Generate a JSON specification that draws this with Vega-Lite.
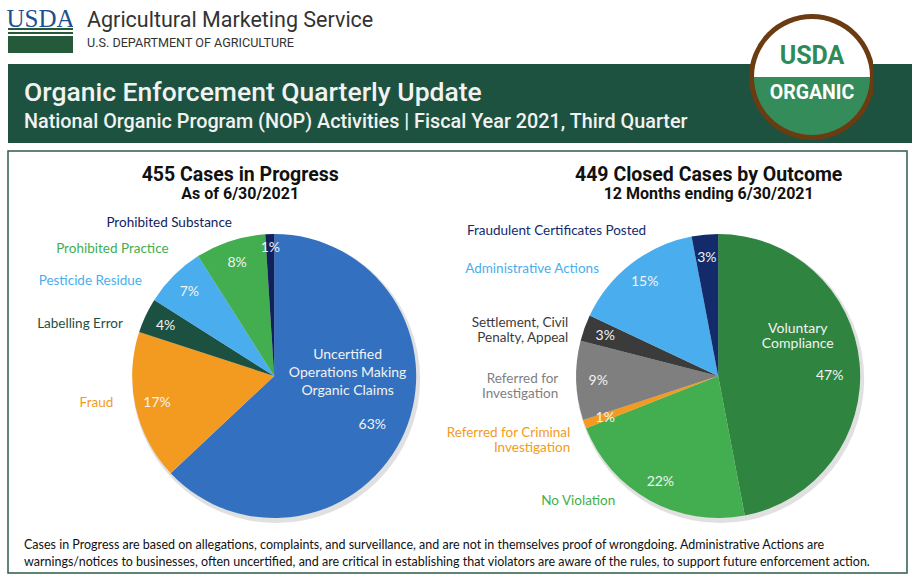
{
  "$schema": "https://vega.github.io/schema/vega-lite/v6.json",
  "padding": {"left": 6, "top": 0, "right": 0, "bottom": 0},
  "background": "#ffffff",
  "config": {"view": {"stroke": null}, "font": "Lato"},
  "datasets": {
    "pies": [
      {"panel": "In Progress", "i": 1, "category": "Uncertified Operations Making Organic Claims", "label": "Uncertified\nOperations Making\nOrganic Claims", "pct": 0.63},
      {"panel": "In Progress", "i": 2, "category": "Fraud", "label": "Fraud", "pct": 0.17},
      {"panel": "In Progress", "i": 3, "category": "Labelling Error", "label": "Labelling Error", "pct": 0.04},
      {"panel": "In Progress", "i": 4, "category": "Pesticide Residue", "label": "Pesticide Residue", "pct": 0.07},
      {"panel": "In Progress", "i": 5, "category": "Prohibited Practice", "label": "Prohibited Practice", "pct": 0.08},
      {"panel": "In Progress", "i": 6, "category": "Prohibited Substance", "label": "Prohibited Substance", "pct": 0.01},
      {"panel": "Closed", "i": 1, "category": "Voluntary Compliance", "label": "Voluntary\nCompliance", "pct": 0.47},
      {"panel": "Closed", "i": 2, "category": "No Violation", "label": "No Violation", "pct": 0.22},
      {"panel": "Closed", "i": 3, "category": "Referred for Criminal Investigation", "label": "Referred for Criminal\nInvestigation", "pct": 0.01},
      {"panel": "Closed", "i": 4, "category": "Referred for Investigation", "label": "Referred for\nInvestigation", "pct": 0.09},
      {"panel": "Closed", "i": 5, "category": "Settlement, Civil Penalty, Appeal", "label": "Settlement, Civil\nPenalty, Appeal", "pct": 0.03},
      {"panel": "Closed", "i": 6, "category": "Administrative Actions", "label": "Administrative Actions", "pct": 0.15},
      {"panel": "Closed", "i": 7, "category": "Fraudulent Certificates Posted", "label": "Fraudulent Certificates Posted", "pct": 0.03}
    ],
    "titles": [
      {"panel": "In Progress", "title": "455 Cases in Progress", "sub": "As of 6/30/2021"},
      {"panel": "Closed", "title": "449 Closed Cases by Outcome", "sub": "12 Months ending 6/30/2021"}
    ]
  },
  "spacing": 7,
  "vconcat": [
    {
      "title": {"text": "Agricultural Marketing Service", "subtitle": "U.S. DEPARTMENT OF AGRICULTURE", "orient": "top", "anchor": "start", "frame": "group", "offset": -50, "dx": 79, "font": "Roboto", "fontSize": 21.5, "fontWeight": "normal", "color": "#333333", "subtitleFont": "Roboto", "subtitleFontSize": 12.6, "subtitleColor": "#333333", "subtitlePadding": 5.8},
      "spacing": 0,
      "bounds": "flush",
      "hconcat": [
        {
          "width": 65, "height": 143,
          "view": {"fill": {"gradient": "linear", "x1": 0, "y1": 0, "x2": 0, "y2": 1, "stops": [
            {"offset": 0, "color": "#ffffff"}, {"offset": 0.198, "color": "#ffffff"},
            {"offset": 0.198, "color": "#24593a"}, {"offset": 0.213, "color": "#24593a"},
            {"offset": 0.213, "color": "#ffffff"}, {"offset": 0.224, "color": "#ffffff"},
            {"offset": 0.224, "color": "#24593a"}, {"offset": 0.241, "color": "#24593a"},
            {"offset": 0.241, "color": "#ffffff"}, {"offset": 0.252, "color": "#ffffff"},
            {"offset": 0.252, "color": "#24593a"}, {"offset": 0.368, "color": "#24593a"},
            {"offset": 0.368, "color": "#ffffff"}, {"offset": 0.4476, "color": "#ffffff"},
            {"offset": 0.4476, "color": "#1e5240"}, {"offset": 1, "color": "#1e5240"}]}},
          "data": {"values": [{}]},
          "mark": {"type": "text", "text": "USDA", "font": "Liberation Serif", "fontSize": 25, "fill": "#1d4f91", "align": "center", "baseline": "alphabetic", "dy": -44.8}
        },
        {
          "width": 678, "height": 143,
          "view": {"fill": {"gradient": "linear", "x1": 0, "y1": 0, "x2": 0, "y2": 1, "stops": [
            {"offset": 0, "color": "#ffffff"}, {"offset": 0.4476, "color": "#ffffff"},
            {"offset": 0.4476, "color": "#1e5240"}, {"offset": 1, "color": "#1e5240"}]}},
          "title": {"text": "Organic Enforcement Quarterly Update", "subtitle": "National Organic Program (NOP) Activities | Fiscal Year 2021, Third Quarter", "orient": "bottom", "anchor": "start", "frame": "group", "offset": -63, "dx": -49, "font": "Roboto", "fontSize": 26.5, "fontWeight": 500, "color": "#f2f2f2", "subtitleFont": "Roboto", "subtitleFontSize": 19.8, "subtitleFontWeight": 500, "subtitleColor": "#f2f2f2", "subtitlePadding": 5.5},
          "data": {"values": [{}]},
          "mark": {"type": "text", "text": ""}
        },
        {
          "width": 122, "height": 143,
          "view": {"fill": {"gradient": "linear", "x1": 0, "y1": 0, "x2": 0, "y2": 1, "stops": [
            {"offset": 0, "color": "#ffffff"}, {"offset": 0.4476, "color": "#ffffff"},
            {"offset": 0.4476, "color": "#1e5240"}, {"offset": 1, "color": "#1e5240"}]}},
          "data": {"values": [{}]},
          "layer": [
            {"mark": {"type": "arc", "theta": 0, "theta2": 6.2832, "outerRadius": 63, "fill": "#6b3b12", "yOffset": 5.5}, "encoding": {}},
            {"mark": {"type": "arc", "theta": -1.5708, "theta2": 1.5708, "outerRadius": 58, "fill": "#ffffff", "yOffset": 5.5}, "encoding": {}},
            {"mark": {"type": "arc", "theta": 1.5708, "theta2": 4.7124, "outerRadius": 58, "fill": "#348c5a", "yOffset": 5.5}, "encoding": {}},
            {"mark": {"type": "text", "text": "USDA", "font": "Roboto", "fontWeight": "bold", "fontSize": 25, "fill": "#2e8b57", "align": "center", "baseline": "middle", "dy": -15.5}},
            {"mark": {"type": "text", "text": "ORGANIC", "font": "Roboto", "fontWeight": "bold", "fontSize": 19.5, "fill": "#ffffff", "align": "center", "baseline": "middle", "dy": 21.8}}
          ]
        },
        {
          "width": 41, "height": 143,
          "view": {"fill": {"gradient": "linear", "x1": 0, "y1": 0, "x2": 0, "y2": 1, "stops": [
            {"offset": 0, "color": "#ffffff"}, {"offset": 0.4476, "color": "#ffffff"},
            {"offset": 0.4476, "color": "#1e5240"}, {"offset": 1, "color": "#1e5240"}]}},
          "data": {"values": [{}]},
          "mark": {"type": "text", "text": ""}
        }
      ]
    },
    {
      "width": 899, "height": 422,
      "view": {"stroke": "#2d5e48", "strokeWidth": 1.5},
      "title": {"text": ["Cases in Progress are based on allegations, complaints, and surveillance, and are not in themselves proof of wrongdoing.  Administrative Actions are", "warnings/notices to businesses, often uncertified, and are critical in establishing that violators are aware of the rules, to support future enforcement action."], "orient": "bottom", "anchor": "start", "frame": "group", "offset": -34, "dx": 16, "font": "Lato", "fontSize": 12.5, "fontWeight": "normal", "color": "#111111", "lineHeight": 17.3},
      "encoding": {
        "x": {"field": "panel", "type": "nominal", "scale": {"type": "point", "domain": ["In Progress", "Closed"], "padding": 0.5124, "align": 0.585}, "axis": null}
      },
      "layer": [
        {"data": {"name": "titles"}, "mark": {"type": "arc", "theta": 0, "theta2": 6.2832, "outerRadius": 144, "fill": "#000000", "opacity": 0.12, "xOffset": 2, "yOffset": 17}},
        {"data": {"name": "pies"}, "transform": [{"filter": "datum.panel === 'In Progress'"}],
          "mark": {"type": "arc", "outerRadius": 142, "yOffset": 14},
          "encoding": {
            "theta": {"field": "pct", "type": "quantitative", "stack": true},
            "color": {"field": "category", "type": "nominal", "legend": null, "scale": {
              "domain": ["Uncertified Operations Making Organic Claims", "Fraud", "Labelling Error", "Pesticide Residue", "Prohibited Practice", "Prohibited Substance", "Voluntary Compliance", "No Violation", "Referred for Criminal Investigation", "Referred for Investigation", "Settlement, Civil Penalty, Appeal", "Administrative Actions", "Fraudulent Certificates Posted"],
              "range": ["#3470c0", "#f39b21", "#1c5141", "#4aaeee", "#43ae4f", "#12215c", "#2f8440", "#42ae4f", "#f39b21", "#7f7f7f", "#3b3b3b", "#4aaeee", "#132b6b"]}},
            "order": {"field": "i", "type": "quantitative"}
          }},
        {"data": {"name": "pies"}, "transform": [{"filter": "datum.panel === 'Closed'"}],
          "mark": {"type": "arc", "outerRadius": 142, "yOffset": 14},
          "encoding": {
            "theta": {"field": "pct", "type": "quantitative", "stack": true},
            "color": {"field": "category", "type": "nominal", "legend": null},
            "order": {"field": "i", "type": "quantitative"}
          }},
        {"data": {"name": "pies"}, "transform": [{"filter": "datum.panel === 'In Progress'"}],
          "mark": {"type": "text", "radius": 120, "dy": {"expr": "datum.category === 'Prohibited Substance' ? 6 : 15"}, "dx": {"expr": "datum.category === 'Uncertified Operations Making Organic Claims' ? -12 : 0"}, "font": "Lato", "fontSize": 14, "fill": "#f2f2f2", "align": "center", "baseline": "middle"},
          "encoding": {
            "theta": {"field": "pct", "type": "quantitative", "stack": true},
            "order": {"field": "i", "type": "quantitative"},
            "detail": {"field": "category", "type": "nominal"},
            "text": {"field": "pct", "type": "quantitative", "format": ".0%"}
          }},
        {"data": {"name": "pies"}, "transform": [{"filter": "datum.panel === 'Closed'"}],
          "mark": {"type": "text", "radius": 120, "dy": {"expr": "datum.category === 'Voluntary Compliance' ? 25 : 15"}, "dx": {"expr": "datum.category === 'Voluntary Compliance' ? -8 : 0"}, "font": "Lato", "fontSize": 14, "fill": "#f2f2f2", "align": "center", "baseline": "middle"},
          "encoding": {
            "theta": {"field": "pct", "type": "quantitative", "stack": true},
            "order": {"field": "i", "type": "quantitative"},
            "detail": {"field": "category", "type": "nominal"},
            "text": {"field": "pct", "type": "quantitative", "format": ".0%"}
          }},
        {"data": {"name": "pies"}, "transform": [{"filter": "datum.panel === 'In Progress'"}],
          "mark": {"type": "text", "radius": 170, "align": "right", "baseline": "middle", "lineBreak": "\n", "lineHeight": 15, "font": "Lato", "fontSize": 13.5,
            "dx": {"expr": "datum.category === 'Fraud' ? 5 : datum.category === 'Labelling Error' ? 2.5 : datum.category === 'Pesticide Residue' ? -12 : datum.category === 'Prohibited Practice' ? -53 : datum.category === 'Prohibited Substance' ? -37 : 0"},
            "dy": {"expr": "datum.category === 'Fraud' ? 4 : datum.category === 'Labelling Error' ? 34 : datum.category === 'Pesticide Residue' ? 39 : datum.category === 'Prohibited Practice' ? 49 : datum.category === 'Prohibited Substance' ? 31 : 0"}},
          "encoding": {
            "theta": {"field": "pct", "type": "quantitative", "stack": true},
            "order": {"field": "i", "type": "quantitative"},
            "color": {"field": "category", "type": "nominal", "legend": null},
            "text": {"condition": {"test": "datum.pct < 0.4", "field": "label", "type": "nominal"}, "value": ""}
          }},
        {"data": {"name": "pies"}, "transform": [{"filter": "datum.panel === 'Closed'"}],
          "mark": {"type": "text", "radius": 170, "align": "right", "baseline": "middle", "lineBreak": "\n", "lineHeight": 15, "font": "Lato", "fontSize": 13.5,
            "dx": {"expr": "datum.category === 'Fraudulent Certificates Posted' ? -56 : datum.category === 'Administrative Actions' ? -15 : datum.category === 'Settlement, Civil Penalty, Appeal' ? 10 : datum.category === 'Referred for Investigation' ? 10 : datum.category === 'Referred for Criminal Investigation' ? 12 : datum.category === 'No Violation' ? -21 : 0"},
            "dy": {"expr": "datum.category === 'Fraudulent Certificates Posted' ? 38 : datum.category === 'Administrative Actions' ? 41 : datum.category === 'Settlement, Civil Penalty, Appeal' ? 18.5 : datum.category === 'Referred for Investigation' ? 12 : datum.category === 'Referred for Criminal Investigation' ? 13.5 : datum.category === 'No Violation' ? -10 : 0"}},
          "encoding": {
            "theta": {"field": "pct", "type": "quantitative", "stack": true},
            "order": {"field": "i", "type": "quantitative"},
            "color": {"field": "category", "type": "nominal", "legend": null},
            "text": {"condition": {"test": "datum.pct < 0.4", "field": "label", "type": "nominal"}, "value": ""}
          }},
        {"data": {"name": "pies"}, "transform": [{"filter": "datum.panel === 'In Progress'"}],
          "mark": {"type": "text", "radius": 80, "dy": -39, "align": "center", "baseline": "middle", "lineBreak": "\n", "lineHeight": 18.3, "font": "Lato", "fontSize": 14, "fill": "#f2f2f2"},
          "encoding": {
            "theta": {"field": "pct", "type": "quantitative", "stack": true},
            "order": {"field": "i", "type": "quantitative"},
            "detail": {"field": "category", "type": "nominal"},
            "text": {"condition": {"test": "datum.pct >= 0.4", "field": "label", "type": "nominal"}, "value": ""}
          }},
        {"data": {"name": "pies"}, "transform": [{"filter": "datum.panel === 'Closed'"}],
          "mark": {"type": "text", "radius": 80, "dy": -25.5, "align": "center", "baseline": "middle", "lineBreak": "\n", "lineHeight": 15.5, "font": "Lato", "fontSize": 14, "fill": "#f2f2f2"},
          "encoding": {
            "theta": {"field": "pct", "type": "quantitative", "stack": true},
            "order": {"field": "i", "type": "quantitative"},
            "detail": {"field": "category", "type": "nominal"},
            "text": {"condition": {"test": "datum.pct >= 0.4", "field": "label", "type": "nominal"}, "value": ""}
          }},
        {"data": {"name": "titles"},
          "mark": {"type": "text", "font": "Roboto", "fontSize": 19.5, "fontWeight": "bold", "fill": "#111111", "align": "center", "baseline": "middle", "dy": -187.5, "dx": {"expr": "datum.panel === 'In Progress' ? -34 : -9.5"}},
          "encoding": {"text": {"field": "title", "type": "nominal"}}},
        {"data": {"name": "titles"},
          "mark": {"type": "text", "font": "Roboto", "fontSize": 16, "fontWeight": "bold", "fill": "#111111", "align": "center", "baseline": "middle", "dy": -167.7, "dx": {"expr": "datum.panel === 'In Progress' ? -34 : -9.5"}},
          "encoding": {"text": {"field": "sub", "type": "nominal"}}}
      ]
    }
  ]
}
